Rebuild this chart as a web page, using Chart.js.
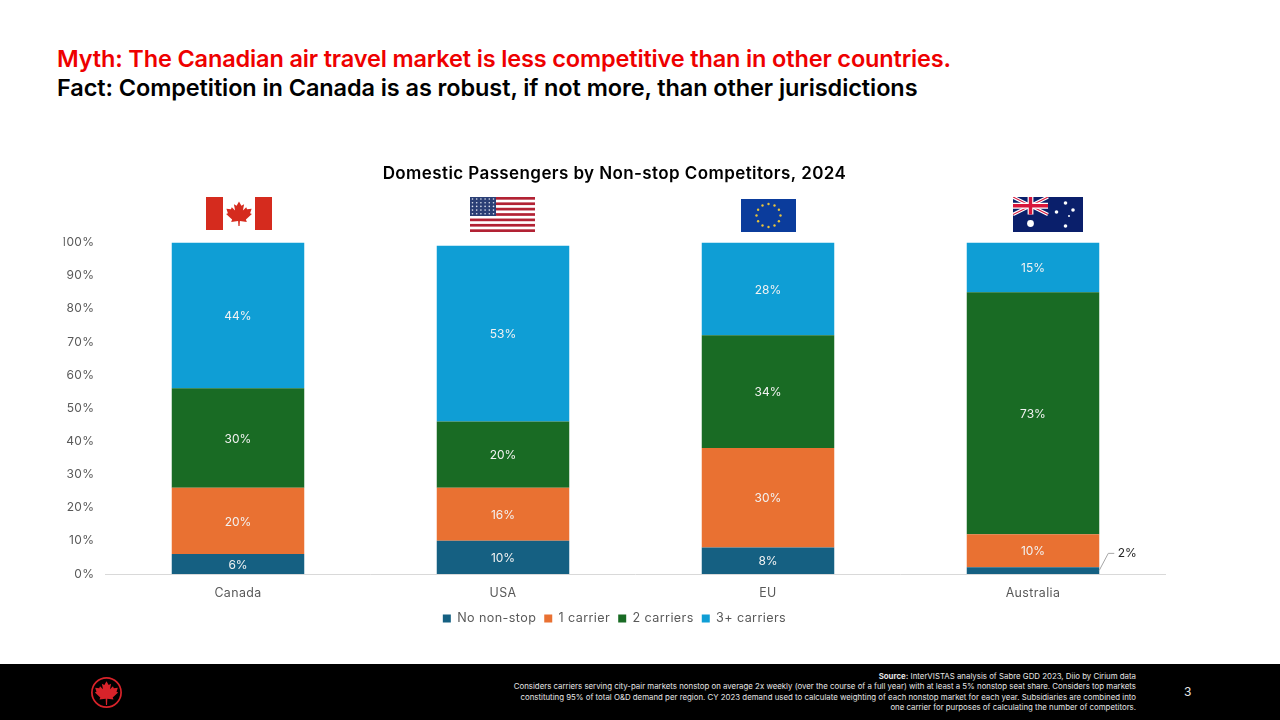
<!DOCTYPE html>
<html>
<head>
<meta charset="utf-8">
<title>Domestic Passengers by Non-stop Competitors, 2024</title>
<script src="https://cdn.jsdelivr.net/npm/chart.js@4"></script>
<style>
    html, body { margin: 0; padding: 0; background: #fff; }
    body { width: 1280px; height: 720px; position: relative; overflow: hidden; font-family: "Inter", sans-serif; }
    canvas { position: absolute; left: 0; top: 0; }
    .head { position: absolute; left: 57px; top: 45px; font-weight: 600; font-size: 23.5px; line-height: 28.5px; letter-spacing: -0.15px; white-space: nowrap; color: #000; }
    .head .myth { color: #ee0000; }
    .head .fact { letter-spacing: -0.09px; }
    .flag { position: absolute; display: block; }
    .foot { position: absolute; left: 0; top: 664px; width: 1280px; height: 56px; background: #000; }
    .note { position: absolute; right: 144px; top: 6.5px; text-align: right; color: #e6e6e6; font-size: 7.85px; line-height: 10.6px; white-space: nowrap; }
    .page { position: absolute; left: 1184px; top: 20px; color: #e6e6e6; font-size: 12px; }
    .logo { position: absolute; left: 90px; top: 12px; }
</style>
</head>
<body>
<div class="head">
    <div class="myth">Myth: The Canadian air travel market is less competitive than in other countries.</div>
    <div class="fact">Fact: Competition in Canada is as robust, if not more, than other jurisdictions</div>
</div>

<canvas id="myChart" width="1280" height="720"></canvas>

<svg class="flag" style="left:206px;top:197px" width="66" height="33" viewBox="0 0 66 33">
    <rect width="66" height="33" fill="#fff"/>
    <rect width="17" height="33" fill="#d52b1e"/>
    <rect x="49" width="17" height="33" fill="#d52b1e"/>
    <path transform="translate(33 16.5) scale(.15)" fill="#d52b1e" d="M0-80 16-52 34-62 26-20 48-42 54-28 84-32 74-2 86 4 46 40 52 56 6 50 4 84-4 84-6 50-52 56-46 40-86 4-74-2-84-32-54-28-48-42-26-20-34-62-16-52Z"/>
</svg>

<svg class="flag" style="left:470px;top:197px" width="65" height="35" viewBox="0 0 65 35">
    <rect width="65" height="35" fill="#fff"/>
    <g id="usStripes" fill="#b22234"></g>
    <rect width="26" height="19" fill="#2b3f75"/>
    <g id="usStars" fill="#dfe4f0"></g>
</svg>

<svg class="flag" style="left:741px;top:199px" width="55" height="33" viewBox="0 0 55 33">
    <rect width="55" height="33" fill="#0b3c9c"/>
    <g id="euStars" fill="#e8c33a"></g>
</svg>

<svg class="flag" style="left:1013px;top:197px" width="70" height="35" viewBox="0 0 70 35">
    <rect width="70" height="35" fill="#0a1f6b"/>
    <path d="M0 0 35 17.5M35 0 0 17.5" stroke="#fff" stroke-width="3.4"/>
    <path d="M0 0 35 17.5M35 0 0 17.5" stroke="#d8153a" stroke-width="1.1"/>
    <path d="M17.5 0V17.5M0 8.75H35" stroke="#fff" stroke-width="5.8"/>
    <path d="M17.5 0V17.5M0 8.75H35" stroke="#d8153a" stroke-width="3.4"/>
    <g fill="#fff">
        <circle cx="17.5" cy="26.5" r="3.4"/>
        <circle cx="52.5" cy="29" r="1.8"/>
        <circle cx="52.5" cy="6" r="1.8"/>
        <circle cx="43.5" cy="15" r="1.8"/>
        <circle cx="60" cy="13" r="1.8"/>
        <circle cx="56" cy="19" r="1"/>
    </g>
</svg>

<div class="foot">
    <svg class="logo" width="33" height="33" viewBox="0 0 33 33">
        <circle cx="16.5" cy="16.5" r="14.6" fill="none" stroke="#d8232a" stroke-width="1.7"/>
        <path transform="translate(16.5 16) scale(.135)" fill="#d8232a" d="M0-80 16-52 34-62 26-20 48-42 54-28 84-32 74-2 86 4 46 40 52 56 6 50 4 96-4 96-6 50-52 56-46 40-86 4-74-2-84-32-54-28-48-42-26-20-34-62-16-52Z"/>
    </svg>
    <div class="note">
        <b>Source:</b> InterVISTAS analysis of Sabre GDD 2023, Diio by Cirium data<br>
        Considers carriers serving city-pair markets nonstop on average 2x weekly (over the course of a full year) with at least a 5% nonstop seat share. Considers top markets<br>
        constituting 95% of total O&amp;D demand per region. CY 2023 demand used to calculate weighting of each nonstop market for each year. Subsidiaries are combined into<br>
        one carrier for purposes of calculating the number of competitors.
    </div>
    <div class="page">3</div>
</div>

<script>
const categories = ["Canada", "USA", "EU", "Australia"];
const noNonStop = [6, 10, 8, 2];
const oneCarrier = [20, 16, 30, 10];
const twoCarriers = [30, 20, 34, 73];
const threePlus = [44, 53, 28, 15];
const yTicks = [0, 10, 20, 30, 40, 50, 60, 70, 80, 90, 100];

const svgNS = "http://www.w3.org/2000/svg";

function addShape(parent, tag, attrs) {
    const el = document.createElementNS(svgNS, tag);
    for (const k in attrs) el.setAttribute(k, attrs[k]);
    parent.appendChild(el);
}

// flag details that repeat
const usStripes = document.getElementById("usStripes");
for (let i = 0; i < 13; i += 2) {
    addShape(usStripes, "rect", { x: 0, y: i * 35 / 13, width: 65, height: 35 / 13 });
}
const usStars = document.getElementById("usStars");
for (let r = 0; r < 5; r++) {
    for (let c = 0; c < 6; c++) {
        addShape(usStars, "circle", { cx: 2.5 + c * 4.2, cy: 2 + r * 3.7, r: 0.8 });
    }
}
const euStars = document.getElementById("euStars");
for (let i = 0; i < 12; i++) {
    const a = i * Math.PI / 6;
    addShape(euStars, "circle", { cx: 27.5 + Math.cos(a) * 12, cy: 16.5 + Math.sin(a) * 11.5, r: 1.2 });
}

// canvas text is slightly tracked out, has to be set again after a resize resets the context
const tracking = {
    id: "tracking",
    beforeLayout(chart) { chart.ctx.letterSpacing = "0.4px"; },
    beforeDraw(chart) { chart.ctx.letterSpacing = "0.4px"; }
};

// white value labels centred in each segment, 2% gets a leader line
const valueLabels = {
    id: "valueLabels",
    afterDatasetsDraw(chart) {
        const c = chart.ctx;
        c.save();
        c.letterSpacing = "0px";
        c.font = '12px "Inter", sans-serif';
        c.textAlign = "center";
        c.textBaseline = "middle";
        chart.data.datasets.forEach(function (ds, i) {
            chart.getDatasetMeta(i).data.forEach(function (bar, j) {
                const v = ds.data[j];
                if (v < 5) {
                    const right = bar.x + bar.width / 2;
                    c.strokeStyle = "#a6a6a6";
                    c.lineWidth = 1;
                    c.beginPath();
                    c.moveTo(right, bar.y + 3);
                    c.lineTo(right + 9, bar.y - 14);
                    c.lineTo(right + 15, bar.y - 14);
                    c.stroke();
                    c.fillStyle = "#262626";
                    c.fillText(v + "%", right + 28, bar.y - 14);
                } else {
                    c.fillStyle = "#f2f2f2";
                    c.fillText(v + "%", bar.x, (bar.y + bar.base) / 2 + 1);
                }
            });
        });
        c.restore();
    }
};

Chart.defaults.font.family = '"Inter", sans-serif';

new Chart(document.getElementById("myChart"), {
    type: "bar",
    data: {
        labels: categories,
        datasets: [
            { label: "No non-stop", data: noNonStop, backgroundColor: "#156082" },
            { label: "1 carrier", data: oneCarrier, backgroundColor: "#E97132" },
            { label: "2 carriers", data: twoCarriers, backgroundColor: "#196B24" },
            { label: "3+ carriers", data: threePlus, backgroundColor: "#0F9ED5" }
        ]
    },
    options: {
        responsive: false,
        animation: false,
        layout: { padding: { left: 63.5, right: 114.5, top: 163.8, bottom: 85.2 } },
        datasets: { bar: { barPercentage: 0.5, categoryPercentage: 1 } },
        scales: {
            x: {
                stacked: true,
                grid: { display: false, drawTicks: false },
                border: { color: "#d9d9d9" },
                ticks: { color: "#595959", font: { size: 12.4 }, padding: 11.5 },
                afterFit(scale) { scale.height = 30.2; }
            },
            y: {
                stacked: true,
                min: 0,
                max: 100,
                afterBuildTicks(scale) { scale.ticks = yTicks.map(v => ({ value: v })); },
                grid: { display: false, drawTicks: false },
                border: { display: false },
                ticks: {
                    color: "#595959",
                    font: { size: 12 },
                    padding: 11,
                    callback: function (value) { return value + "%"; }
                },
                afterFit(scale) { scale.width = 42; }
            }
        },
        plugins: {
            title: {
                display: true,
                text: "Domestic Passengers by Non-stop Competitors, 2024",
                color: "#000",
                font: { size: 17, weight: "600" },
                padding: { top: 0, bottom: 58.3 }
            },
            legend: {
                position: "bottom",
                labels: {
                    color: "#595959",
                    font: { size: 12.6 },
                    boxWidth: 8,
                    boxHeight: 8,
                    padding: 8
                }
            },
            tooltip: { enabled: false }
        }
    },
    plugins: [tracking, valueLabels]
});
</script>
</body>
</html>
